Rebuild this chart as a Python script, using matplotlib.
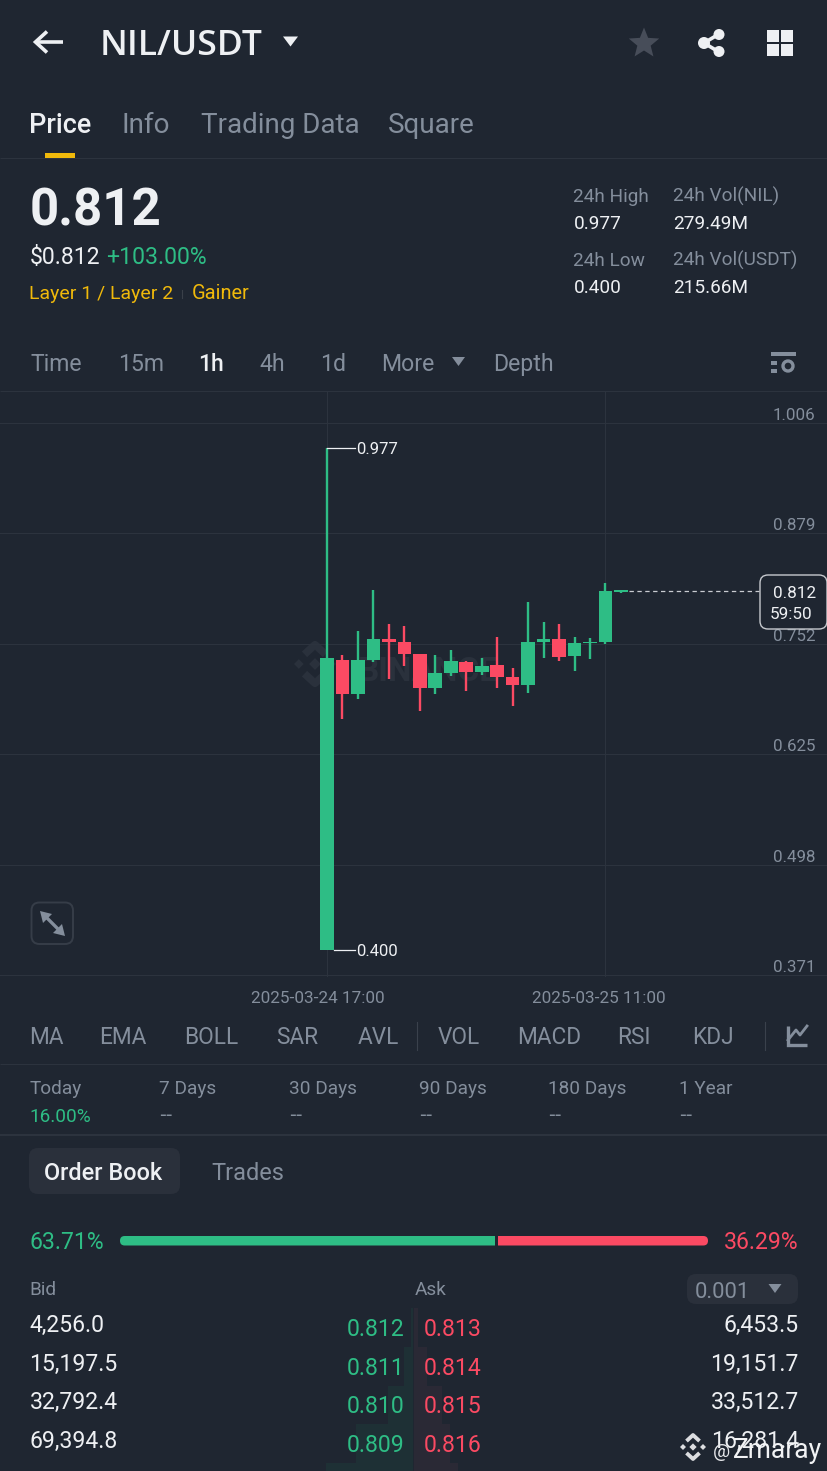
import numpy as np
import matplotlib
matplotlib.use("Agg")
import matplotlib.pyplot as plt
from matplotlib.patches import FancyBboxPatch, Polygon, Circle, Rectangle

# ---------- data ----------
candle_open  = [0.400,0.7328,0.6941,0.7332,0.7570,0.7539,0.7401,0.7014,0.7179,0.7309,0.7194,0.7278,0.7140,0.7041,0.7543,0.7577,0.7382,0.7527,0.7543,0.8115]
candle_close = [0.7351,0.6941,0.7328,0.7570,0.7543,0.7401,0.7014,0.7179,0.7317,0.7194,0.7267,0.7140,0.7048,0.7539,0.7570,0.7370,0.7523,0.7543,0.8121,0.8132]
candle_high  = [0.977,0.7393,0.7669,0.8140,0.7750,0.7719,0.7401,0.7393,0.7451,0.7324,0.7359,0.7600,0.7240,0.7999,0.7769,0.7750,0.7600,0.7589,0.8221,0.8135]
candle_low   = [0.400,0.6654,0.6884,0.7305,0.7110,0.7259,0.6750,0.6941,0.7152,0.6972,0.7160,0.7014,0.6799,0.6949,0.7359,0.7320,0.7209,0.7340,0.7512,0.8100]
price_ticks  = [1.006,0.879,0.752,0.625,0.498,0.371]
date_idx     = [0,18]
date_labels  = ["2025-03-24 17:00","2025-03-25 11:00"]
last_price   = 0.812
hi_price, lo_price = 0.977, 0.400

bid_prices = ["0.812","0.811","0.810","0.809"]
ask_prices = ["0.813","0.814","0.815","0.816"]
bid_vols   = [4256.0,15197.5,32792.4,69394.8]
ask_vols   = [6453.5,19151.7,33512.7,16281.4]
bid_depth5, ask_depth5 = 185000.0, 92000.0
bid_pct, ask_pct = 63.71, 36.29

tabs = [("Price",30),("Info",122),("Trading Data",202),("Square",388)]
frames = [("Time",31),("15m",119),("1h",199),("4h",260),("1d",321),("More",382),("Depth",494)]
indicators = [("MA",30),("EMA",100),("BOLL",185),("SAR",277),("AVL",358),("VOL",438),("MACD",518),("RSI",618),("KDJ",693)]
periods = [("Today","16.00%",30),("7 Days","--",160),("30 Days","--",290),("90 Days","--",420),("180 Days","--",549),("1 Year","--",680)]

# ---------- style ----------
BG="#1f2631"; GRID="#2c333e"; GREEN="#2ebd85"; RED="#fb4a63"; GRAY="#848e9c"; WHITE="#eef0f3"; YEL="#f0b90b"; PANEL="#2a303b"
plt.rcParams['font.family']=['Roboto','DejaVu Sans']
W,H=828,1471
fig=plt.figure(figsize=(W/100,H/100),dpi=100,facecolor=BG)
def axes_px(x0,y0,x1,y1,z=1):
    a=fig.add_axes([x0/W,1-y1/H,(x1-x0)/W,(y1-y0)/H],zorder=z)
    a.patch.set_alpha(0)
    return a

ui=axes_px(0,0,W,H,z=0); ui.set_xlim(0,W); ui.set_ylim(H,0); ui.axis('off')
top=axes_px(0,0,W,H,z=5); top.set_xlim(0,W); top.set_ylim(H,0); top.axis('off')

def T(x,y,s,px,c=WHITE,ha='left',w='normal',a=None,fam=None):
    kw={'family':fam} if fam else {}
    (a or ui).text(x-0.5 if ha=='left' else x+0.7,y,s,fontsize=px*0.72,color=c,ha=ha,va='baseline',fontweight=w,**kw)
def HL(y,c=GRID,lw=1):
    ui.plot([0,W],[y,y],color=c,lw=lw*0.72,solid_capstyle='butt')
def tri(cx,cy,w,h,c):
    ui.add_patch(Polygon([(cx-w/2,cy-h/2),(cx+w/2,cy-h/2),(cx,cy+h/2)],closed=True,fc=c,ec='none'))
def rbox(x0,y0,x1,y1,r,fc,ec='none',lw=0,a=None,z=1):
    p=FancyBboxPatch((x0+r,y0+r),x1-x0-2*r,y1-y0-2*r,boxstyle=f"round,pad={r},rounding_size={r}",fc=fc,ec=ec,lw=lw,zorder=z)
    (a or ui).add_patch(p); return p
def logo(a,cx,cy,r,col,lw):
    def dm(x,y,q):
        a.add_patch(Polygon([(x-q,y),(x,y-q),(x+q,y),(x,y+q)],closed=True,fc=col,ec='none'))
    dm(cx,cy,r*0.28); dm(cx-r*0.77,cy,r*0.23); dm(cx+r*0.77,cy,r*0.23)
    a.plot([cx-r*0.5,cx,cx+r*0.5],[cy-r*0.46,cy-r*0.92,cy-r*0.46],color=col,lw=lw,solid_capstyle='butt')
    a.plot([cx-r*0.5,cx,cx+r*0.5],[cy+r*0.46,cy+r*0.92,cy+r*0.46],color=col,lw=lw,solid_capstyle='butt')

# ---------- header ----------
ui.plot([36,63],[42,42],color=WHITE,lw=2.6,solid_capstyle='butt')
ui.plot([47,35.5,47],[31.5,42,52.5],color=WHITE,lw=2.6,solid_joinstyle='miter',solid_capstyle='butt')
T(100,55,"NIL/USDT",35.5,WHITE,w='semibold',fam='Open Sans')
tri(290.5,41.5,15,10,WHITE)
ang=np.linspace(-np.pi/2,1.5*np.pi,11)[:-1]; rad=np.tile([16,7],5)
ui.add_patch(Polygon(np.c_[644+rad*np.cos(ang),43.5+rad*np.sin(ang)],closed=True,fc="#474d59",ec='none'))
ui.plot([719,704,719],[34,43,52],color=WHITE,lw=2.6)
for cx,cy,r in [(719,34.5,5.5),(704,43,6),(719,51.5,5.5)]:
    ui.add_patch(Circle((cx,cy),r,fc=WHITE,ec='none'))
for x0 in (767,781):
    for y0 in (30,44):
        ui.add_patch(Rectangle((x0,y0),12,12,fc=WHITE,ec='none'))

for i,(s,x) in enumerate(tabs):
    T(x,133,s,27 if i==0 else 27.8,WHITE if i==0 else GRAY,w='medium' if i==0 else 'normal')
ui.add_patch(Rectangle((45,153),30,5,fc=YEL,ec='none'))
HL(158)

# ---------- summary ----------
T(30,225,"0.812",51,WHITE,w='bold')
T(30,264,"$0.812",23,WHITE)
T(107,264,"+103.00%",23,GREEN)
T(30,299,"Layer 1 / Layer 2",19.5,YEL)
ui.plot([182,182],[290,298],color="#3a4049",lw=0.8)
T(192,299,"Gainer",20,YEL)
T(574,202,"24h High",19,GRAY); T(674,202,"24h Vol(NIL)",19,GRAY)
T(574,229,"0.977",19,WHITE);   T(674,229,"279.49M",19,WHITE)
T(574,266,"24h Low",19,GRAY);  T(674,266,"24h Vol(USDT)",19,GRAY)
T(574,293,"0.400",19,WHITE);   T(674,293,"215.66M",19,WHITE)

# ---------- time frames ----------
for s,x in frames:
    T(x,371,s,23,WHITE if s=="1h" else GRAY,w='medium' if s=="1h" else 'normal')
tri(458.5,361.5,13,9,GRAY)
ui.add_patch(Rectangle((771,352),25,3.5,fc=GRAY,ec='none'))
ui.add_patch(Rectangle((771,361),6,3.5,fc=GRAY,ec='none'))
ui.add_patch(Rectangle((771,369),6,3.5,fc=GRAY,ec='none'))
ui.add_patch(Circle((788,366),5,fc='none',ec=GRAY,lw=2.4))
HL(390.5)

# ---------- chart ----------
pxu=110.5/0.127; step=15.47; x0_px=327.0; y_ref=422.7
chart_top,chart_bot=391,977
logo(ui,315,664,21,"#2a313c",5.5)
ax=axes_px(0,chart_top,W,chart_bot,z=2)
ax.set_xlim(-x0_px/step,(W-x0_px)/step)
ax.set_ylim(1.006-(chart_bot-y_ref)/pxu,1.006+(y_ref-chart_top)/pxu)
for sp in ax.spines.values(): sp.set_visible(False)
ax.set_yticks(price_ticks); ax.set_xticks(date_idx)
ax.grid(True,color=GRID,lw=0.8); ax.set_axisbelow(True)
ax.yaxis.tick_right()
ax.tick_params(axis='y',length=0,pad=-9,labelsize=12.2,labelcolor=GRAY)
ax.set_yticklabels([f"{v:.3f}" for v in price_ticks],ha='right',va='bottom')
ax.tick_params(axis='x',length=0,labelbottom=False)
ax.text(2.0,0.7195,"BINANCE",fontsize=24,color="#2a313c",fontweight='bold',ha='left',va='center',zorder=1)
idx=np.arange(len(candle_open))
op=np.array(candle_open); cl=np.array(candle_close); hi=np.array(candle_high); lo=np.array(candle_low)
cols=[GREEN if c>=o else RED for o,c in zip(op,cl)]
ax.vlines(idx,lo,hi,colors=cols,lw=1.7,zorder=3)
ax.bar(idx,np.abs(cl-op),bottom=np.minimum(op,cl),width=0.885,color=cols,zorder=4)
# hi / lo callouts
for v,off0 in ((hi_price,0.0),(lo_price,0.45)):
    ax.plot([off0,1.8],[v,v],color=WHITE,lw=0.9,zorder=5)
    ax.annotate(f"{v:.3f}",xy=(1.9,v),xytext=(0,-1.4),textcoords='offset points',fontsize=12,color=WHITE,va='center',ha='left',zorder=5)
# last price line
ax.plot([19.5,27.9],[last_price,last_price],color="#c9ccd1",lw=0.9,ls=(0,(3.5,2.8)),zorder=5)
rbox(760,575,827,629,8,BG,ec="#c6c9ce",lw=1,a=top)
top.text(816,593,f"{last_price:.3f}",fontsize=12.3,color=WHITE,ha='right',va='center')
top.text(812,614,"59:50",fontsize=12.3,color=WHITE,ha='right',va='center')
for i,s,off in zip(date_idx,date_labels,(-8.8,-7)):
    ax.annotate(s,xy=(i,0),xycoords=('data','axes fraction'),xytext=(off*0.72,-19),textcoords='offset points',
                ha='center',va='baseline',fontsize=12.3,color=GRAY,annotation_clip=False)
# expand icon
rbox(31.5,902.5,73,944,8,'none',ec="#363d48",lw=1.4,a=top)
for pts in ([(40,911),(52,914),(43,923)],[(65,936),(53,933),(62,924)]):
    top.add_patch(Polygon(pts,closed=True,fc=GRAY,ec='none'))
top.plot([45,60],[916,931],color=GRAY,lw=2.4)

# ---------- indicators ----------
for s,x in indicators:
    T(x,1044,s,22.6,GRAY)
for x in (417.5,765.5):
    ui.plot([x,x],[1022,1050],color="#3a414c",lw=0.8)
ui.plot([788,788,807],[1026,1045,1045],color=GRAY,lw=2.4,solid_joinstyle='miter',solid_capstyle='butt')
ui.plot([788,796,800,807],[1040,1030,1035,1026],color=GRAY,lw=2)
HL(1063.5)
for lab,val,x in periods:
    T(x,1094,lab,19,GRAY)
    if val.endswith('%'):
        T(x,1122,val,19,GREEN)
    else:
        T(x,1121,val,19,GRAY,fam='DejaVu Sans')
HL(1134.5,lw=2)

# ---------- order book ----------
rbox(29,1148,180,1194,9,PANEL)
T(45,1180,"Order Book",23.5,WHITE,w='medium')
T(212,1180,"Trades",23.5,GRAY)
T(30,1249,f"{bid_pct:.2f}%",23,GREEN)
T(798,1249,f"{ask_pct:.2f}%",23,RED,ha='right')
bal=axes_px(120,1236,708,1245.5,z=2); bal.set_xlim(0,bid_pct+ask_pct); bal.set_ylim(0,1); bal.axis('off')
clip=rbox(120,1236,708,1245.5,4.7,'none')
b1=bal.barh(0.5,bid_pct,height=1,color=GREEN)
b2=bal.barh(0.5,ask_pct-0.5,left=bid_pct+0.5,height=1,color=RED)
b1[0].set_clip_path(clip); b2[0].set_clip_path(clip)
T(30,1295,"Bid",19,GRAY); T(415,1295,"Ask",19,GRAY)
rbox(687,1274,798,1304,9,PANEL)
T(695,1298,"0.001",22,GRAY)
tri(775,1288.5,13,9,GRAY)

dp=axes_px(0,1308,W,1471,z=1); dp.axis('off')
scale=0.00047
dp.set_xlim(-413/scale,(W-413)/scale)
rowh=38.75
dp.set_ylim((1471-1308)/rowh-0.5,-0.5)
cb=list(np.cumsum(bid_vols))+[bid_depth5]; ca=list(np.cumsum(ask_vols))+[ask_depth5]
dp.barh(range(5),[-v for v in cb],height=1.0,color="#1e3035",lw=0)
dp.barh(range(5),ca,left=1.5/scale,height=1.0,color="#2a2935",lw=0)

for i in range(4):
    yb=[1332,1371,1409,1448][i]; yc=[1336,1375,1413,1452][i]
    T(30,yb,f"{bid_vols[i]:,.1f}",23,WHITE,a=top)
    T(404,yc,bid_prices[i],23,GREEN,ha='right',a=top)
    T(424.5,yc,ask_prices[i],23,RED,a=top)
    T(798,yb,f"{ask_vols[i]:,.1f}",23,WHITE,ha='right',a=top)

# ---------- watermark ----------
L="#dcdde0"
logo(top,693,1447,13,L,2.8)
T(713,1457,"@",19,"#e6e7ea",a=top)
T(733,1458,"Zmaray",26.5,"#f2f3f5",a=top)

fig.savefig("out.png",dpi=100,facecolor=BG)
